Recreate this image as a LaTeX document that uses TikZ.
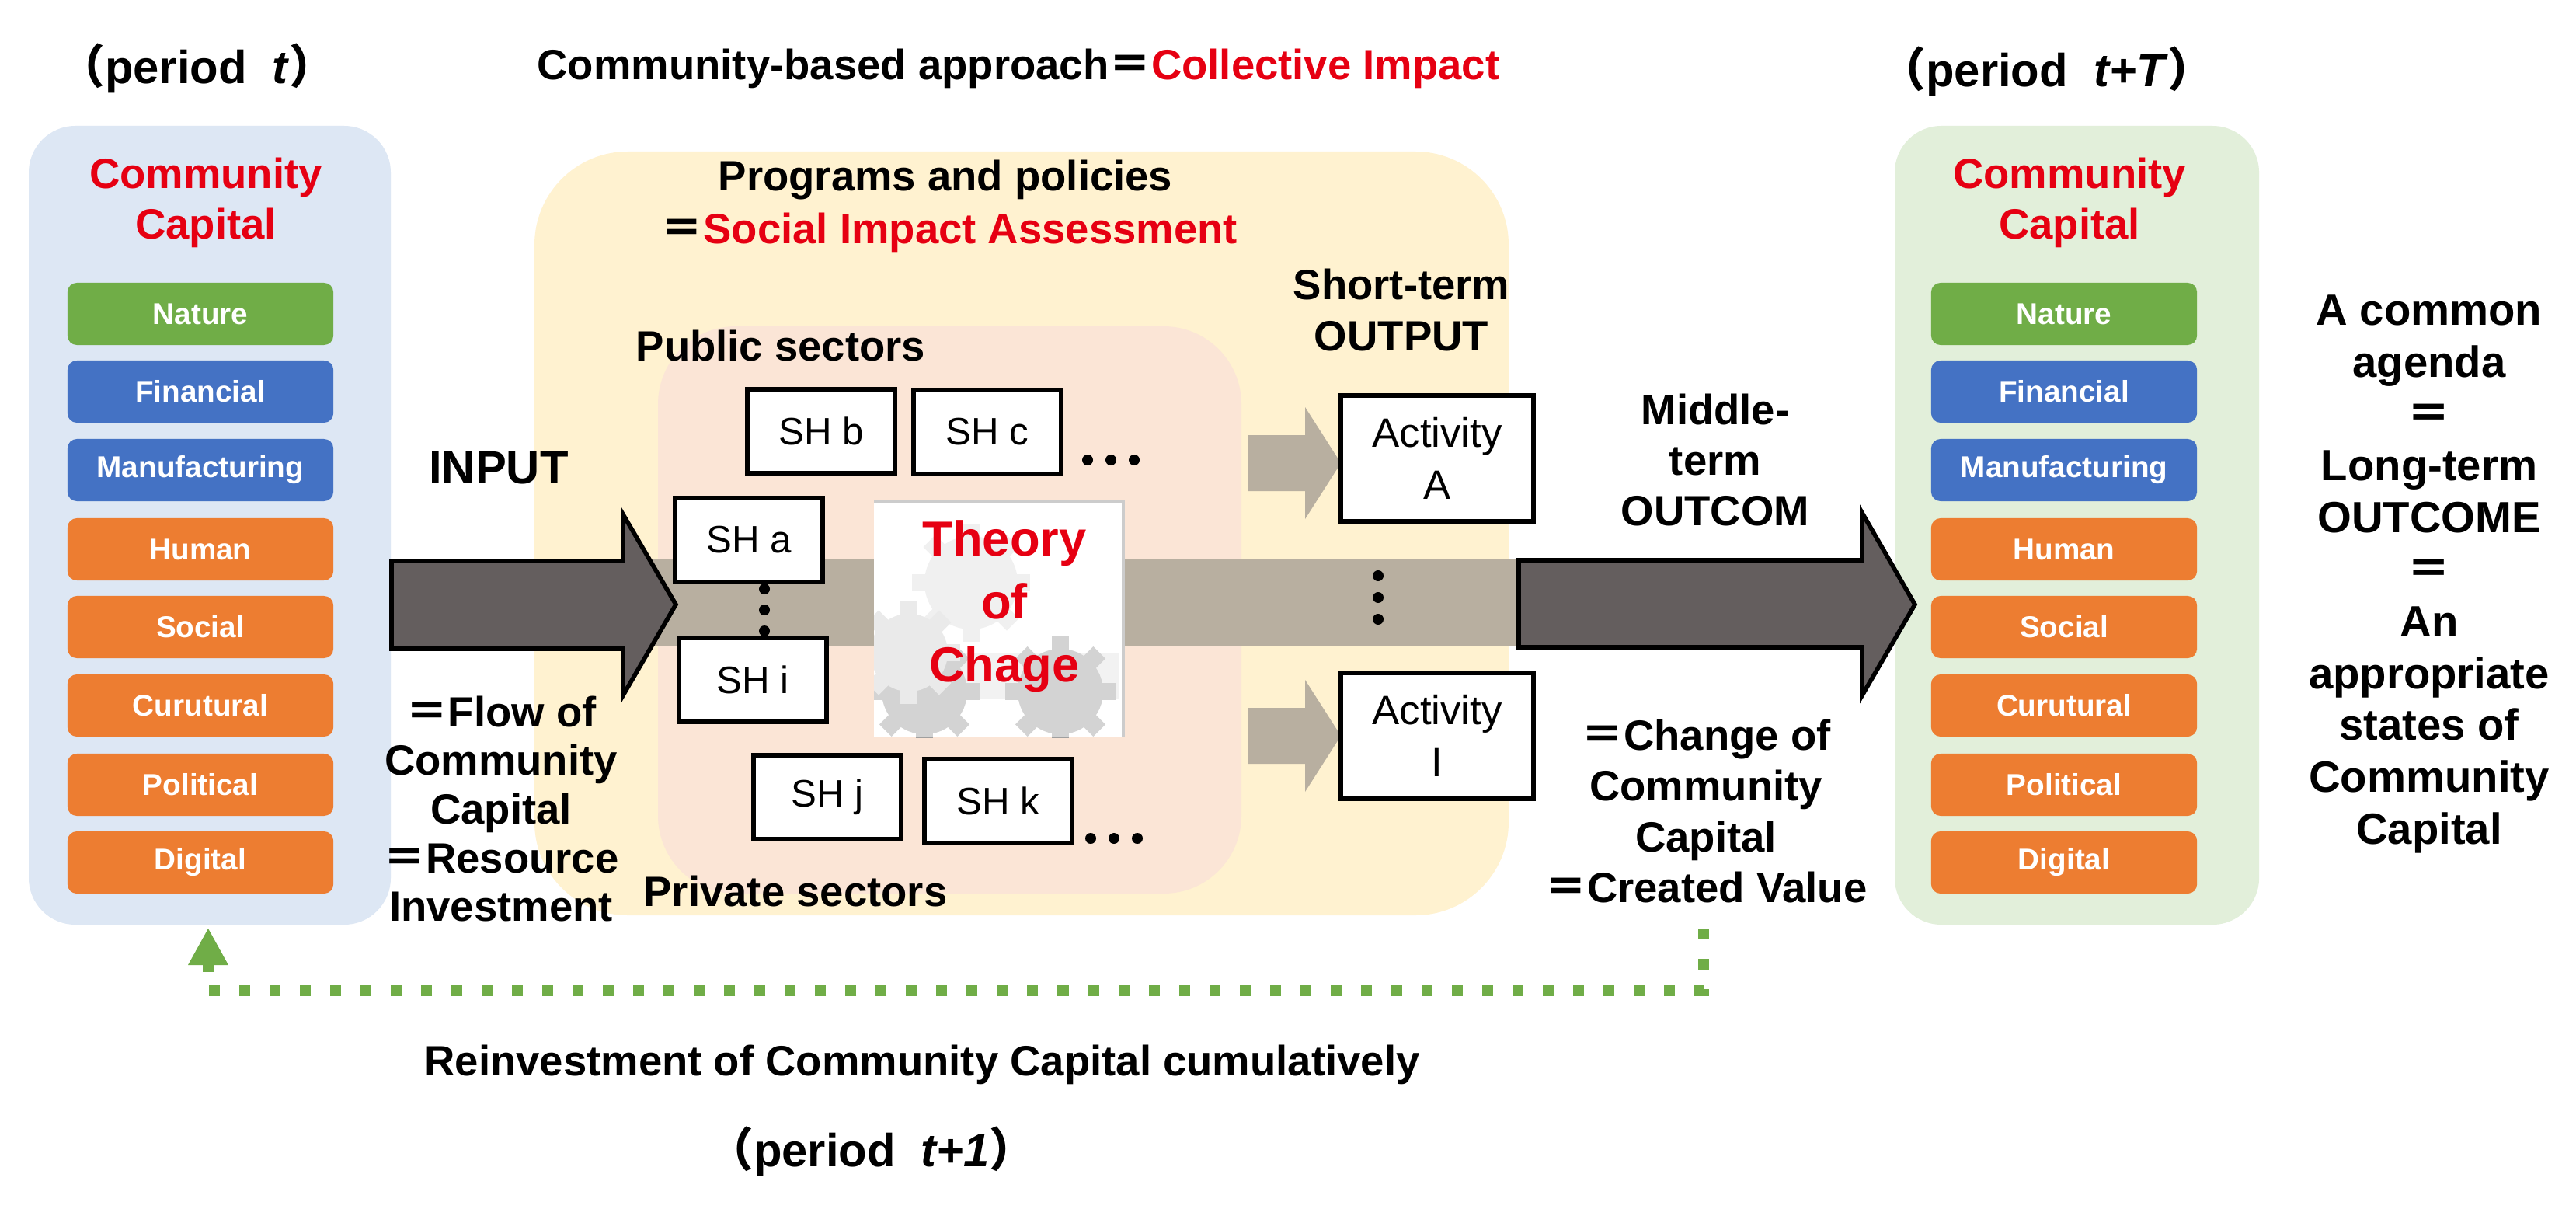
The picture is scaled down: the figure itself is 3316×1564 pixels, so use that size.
\documentclass[tikz,border=0pt]{standalone}
\usepackage{fontspec}
\setmainfont{Liberation Sans}
\newfontfamily\cjk{Noto Sans CJK JP}
\newcommand{\feq}{{\cjk ＝}}
\begin{document}
\begin{tikzpicture}[x=0.01cm,y=-0.01cm,
  lbl/.style={font=\bfseries\fontsize{15.5}{18.5}\selectfont, align=center, inner sep=0},
  redtxt/.style={text={rgb,255:red,230;green,0;blue,18}},
  capbar/.style={rounded corners=0.12cm, minimum width=3.42cm, minimum height=0.8cm, inner sep=0, text=white, font=\bfseries\fontsize{11}{13}\selectfont},
  shbox/.style={draw, line width=1.6pt, fill=white, minimum width=1.9cm, minimum height=1.08cm, inner sep=0, font=\fontsize{14}{17}\selectfont, align=center},
  actbox/.style={draw, line width=1.6pt, fill=white, minimum width=2.48cm, minimum height=1.62cm, inner sep=0, font=\fontsize{15}{19}\selectfont, align=center},
  dot/.style={circle, fill=black, inner sep=0, minimum size=0.14cm}]
\definecolor{cgreen}{RGB}{112,173,71}
\definecolor{cblue}{RGB}{68,114,196}
\definecolor{corange}{RGB}{237,125,49}
\definecolor{pblue}{RGB}{221,231,244}
\definecolor{pgreen}{RGB}{226,239,218}
\definecolor{pyellow}{RGB}{255,242,208}
\definecolor{ppink}{RGB}{251,229,214}
\definecolor{band}{RGB}{184,175,160}
\definecolor{darr}{RGB}{100,94,94}
\useasboundingbox (0,0) rectangle (3316,1564);
\fill[white] (0,0) rectangle (3316,1564);
% titles
\node[lbl, font=\bfseries\fontsize{17}{20}\selectfont] (pt) at (254,88) {{\cjk （}period~~\textit{t}{\cjk ）}};
\node[lbl] (title) at (1311,88) {Community-based approach\feq\textcolor[RGB]{230,0,18}{Collective Impact}};
\node[lbl, font=\bfseries\fontsize{17}{20}\selectfont] (ptT) at (2635,92) {{\cjk （}period~~\textit{t+T}{\cjk ）}};
% panels
\fill[pyellow, rounded corners=1.2cm] (688,195) rectangle (1942,1178);
\fill[ppink, rounded corners=1.0cm] (847,420) rectangle (1598,1150);
\fill[pgreen, rounded corners=0.6cm] (2439,162) rectangle (2908,1190);
\fill[pblue, rounded corners=0.6cm] (37,162) rectangle (503,1190);
% community capital columns
\foreach \cx/\nm in {258/L,2657/R}{
  \node[lbl, redtxt] (cc\nm) at (\cx+7,261) {Community\\Capital};
  \foreach \y/\t/\c/\k in {404/Nature/cgreen/1,504/Financial/cblue/2,605/Manufacturing/cblue/3,707/Human/corange/4,807/Social/corange/5,908/Curutural/corange/6,1010/Political/corange/7,1110/Digital/corange/8}
    \node[capbar, fill=\c] (b\nm\k) at (\cx,\y) {\t};
}
% band
\fill[band] (802,720) rectangle (1960,831);
% small arrows
\foreach \yy/\nm in {596/up,947/dn}
  \fill[band] (1607,\yy-36) -- (1680,\yy-36) -- (1680,\yy-72) -- (1726,\yy) -- (1680,\yy+72) -- (1680,\yy+36) -- (1607,\yy+36) -- cycle;
% big arrows
\draw[fill=darr, line width=1.6pt, line join=miter] (504,722) -- (802,722) -- (802,662) -- (870,778) -- (802,895) -- (802,835) -- (504,835) -- cycle;
\draw[fill=darr, line width=1.6pt, line join=miter] (1955,721) -- (2397,721) -- (2397,660) -- (2465,778) -- (2397,895) -- (2397,833) -- (1955,833) -- cycle;
% labels
\node[lbl] (prog) at (1217,232) {Programs and policies};
\node[lbl, anchor=base] (sia) at (1222,314) {\feq\textcolor[RGB]{230,0,18}{Social Impact Assessment}};
\node[lbl] (pub) at (1005,445) {Public sectors};
\node[lbl] (priv) at (1024,1147) {Private sectors};
\node[lbl, font=\bfseries\fontsize{17}{20}\selectfont] (input) at (642,602) {INPUT};
\node[lbl, font=\bfseries\fontsize{15.5}{17.8}\selectfont] (flow) at (645,1041) {\feq Flow of\\Community\\Capital\\\feq Resource\\Investment};
\node[lbl] (short) at (1804,399) {Short-term\\OUTPUT};
\node[lbl] (middle) at (2208,592) {Middle-\\term\\OUTCOM};
\node[lbl] (change) at (2196,1044) {\feq Change of\\Community\\Capital\\\feq Created Value};
\node[lbl, font=\bfseries\fontsize{16}{19}\selectfont] (agenda) at (3127,739) {A common\\agenda\\\feq\\Long-term\\OUTCOME\\\feq\\An\\appropriate\\states of\\Community\\Capital};
% ToC picture
\begin{scope}
  \fill[white] (1125,643) rectangle (1446,949);
  \clip (1125,643) rectangle (1446,949);
  \fill[gray!22] (1135,840) rectangle (1440,900);
  \foreach \gx/\gy/\gc/\r in {1190/890/gray!75/55, 1365/890/gray!75/55, 1250/750/gray!25/60, 1170/840/gray!35/50}{
    \fill[\gc] (\gx,\gy) circle (\r*0.01cm);
    \foreach \a in {0,45,...,315}
      \fill[\gc, rotate around={\a:(\gx,\gy)}] (\gx-11,\gy-\r-16) rectangle (\gx+11,\gy);
  }
  \fill[white, opacity=0.55] (1125,643) rectangle (1446,949);
\end{scope}
\draw[gray!40, line width=1pt] (1125,645) -- (1446,645) -- (1446,949);
\node[lbl, redtxt, font=\bfseries\fontsize{18}{23}\selectfont] (toc) at (1293,780) {Theory\\of\\Chage};
% SH boxes
\node[shbox] (shb) at (1057,555) {SH b};
\node[shbox] (shc) at (1271,556) {SH c};
\node[shbox] (sha) at (964,695) {SH a};
\node[shbox] (shi) at (969,875) {SH i};
\node[shbox] (shj) at (1065,1026) {SH j};
\node[shbox] (shk) at (1285,1031) {SH k};
\node[actbox] (actA) at (1850,590) {Activity\\A};
\node[actbox] (actI) at (1850,947) {Activity\\I};
% dots
\foreach \x in {1400,1430,1460} \node[dot] at (\x,592) {};
\foreach \x in {1404,1434,1464} \node[dot] at (\x,1079) {};
\foreach \y in {758,785,812} \node[dot] at (984,\y) {};
\foreach \y in {741,769,797} \node[dot] at (1774,\y) {};
% reinvestment loop
\coordinate (loopS) at (2193,1195);
\coordinate (loopA) at (2193,1275);
\coordinate (loopB) at (268,1275);
\draw[cgreen, line width=0.14cm, dash pattern=on 0.14cm off 0.25cm] (loopS) -- (loopA) -- (loopB) -- (268,1240);
\fill[cgreen] (268,1195) -- (294,1242) -- (242,1242) -- cycle;
\node[lbl] (reinv) at (1187,1370) {Reinvestment of Community Capital cumulatively};
\node[lbl, font=\bfseries\fontsize{17}{20}\selectfont] (pt1) at (1122,1482) {{\cjk （}period~~\textit{t+1}{\cjk ）}};
\end{tikzpicture}
\end{document}
